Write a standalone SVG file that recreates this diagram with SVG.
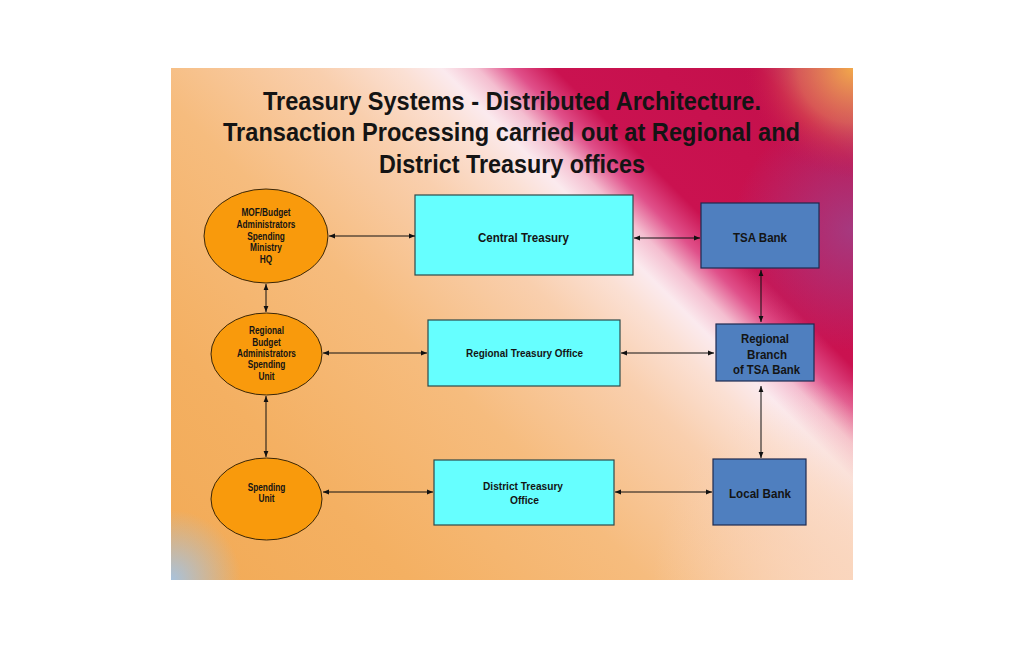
<svg xmlns="http://www.w3.org/2000/svg" width="1024" height="649" viewBox="0 0 1024 649">
<defs>
<linearGradient id="bg" gradientUnits="userSpaceOnUse" x1="853" y1="68" x2="256" y2="665">
<stop offset="0" stop-color="#B03A78"/>
<stop offset="0.08" stop-color="#C4104C"/>
<stop offset="0.25" stop-color="#CA1250"/>
<stop offset="0.285" stop-color="#E0508A"/>
<stop offset="0.315" stop-color="#F4BED0"/>
<stop offset="0.345" stop-color="#FBEAEE"/>
<stop offset="0.38" stop-color="#FBE0D4"/>
<stop offset="0.45" stop-color="#F9CFAE"/>
<stop offset="0.6" stop-color="#F6BC7E"/>
<stop offset="0.8" stop-color="#F4B062"/>
<stop offset="1" stop-color="#F2AA55"/>
</linearGradient>
<radialGradient id="tr" gradientUnits="userSpaceOnUse" cx="853" cy="68" r="110">
<stop offset="0" stop-color="#F2A84A" stop-opacity="1"/>
<stop offset="0.5" stop-color="#E88055" stop-opacity="0.6"/>
<stop offset="1" stop-color="#C8124E" stop-opacity="0"/>
</radialGradient>
<radialGradient id="rp" gradientUnits="userSpaceOnUse" cx="853" cy="230" r="120">
<stop offset="0" stop-color="#A04088" stop-opacity="0.85"/>
<stop offset="1" stop-color="#A04088" stop-opacity="0"/>
</radialGradient>
<radialGradient id="bl" gradientUnits="userSpaceOnUse" cx="171" cy="580" r="70">
<stop offset="0" stop-color="#A8C2DC" stop-opacity="1"/>
<stop offset="1" stop-color="#A8C2DC" stop-opacity="0"/>
</radialGradient>
<radialGradient id="br" gradientUnits="userSpaceOnUse" cx="853" cy="580" r="200">
<stop offset="0" stop-color="#FAD6BE" stop-opacity="0.9"/>
<stop offset="1" stop-color="#FAD6BE" stop-opacity="0"/>
</radialGradient>
<marker id="ah" viewBox="0 0 10 10" refX="10" refY="5" markerWidth="6" markerHeight="6" markerUnits="userSpaceOnUse" orient="auto-start-reverse">
<path d="M0,1 L10,5 L0,9 z" fill="#111"/>
</marker>
</defs>
<style>
.ttl{font-family:"Liberation Sans",Arial,sans-serif;font-weight:bold;font-size:26px;fill:#141414;text-anchor:middle}
.lbl{font-family:"Liberation Sans",Arial,sans-serif;font-weight:bold;fill:#141414;text-anchor:middle}
.ell{fill:#F99A0C;stroke:#3A2608;stroke-width:1}
.cyan{fill:#66FFFF;stroke:#2E4A4A;stroke-width:1.2}
.blue{fill:#4F7FBF;stroke:#1E2A50;stroke-width:1.2}
.con line{stroke:#111;stroke-width:1;marker-start:url(#ah);marker-end:url(#ah)}
</style>
<rect x="0" y="0" width="1024" height="649" fill="#FFFFFF"/>
<g id="background">
<rect x="171" y="68" width="682" height="512" fill="url(#bg)"/>
<rect x="171" y="68" width="682" height="512" fill="url(#rp)"/>
<rect x="171" y="68" width="682" height="512" fill="url(#tr)"/>
<rect x="171" y="68" width="682" height="512" fill="url(#br)"/>
<rect x="171" y="68" width="682" height="512" fill="url(#bl)"/>
</g>
<g id="title">
<text class="ttl" x="512" y="110" textLength="498" lengthAdjust="spacingAndGlyphs">Treasury Systems - Distributed Architecture.</text>
<text class="ttl" x="511.5" y="141" textLength="577" lengthAdjust="spacingAndGlyphs">Transaction Processing carried out at Regional and</text>
<text class="ttl" x="512" y="173" textLength="266" lengthAdjust="spacingAndGlyphs">District Treasury offices</text>
</g>
<g id="mof">
<ellipse class="ell" cx="266" cy="236" rx="62" ry="47"/>
<g transform="translate(266,0) scale(0.83,1)" class="lbl" font-size="10">
<text x="0" y="216">MOF/Budget</text>
<text x="0" y="228">Administrators</text>
<text x="0" y="240">Spending</text>
<text x="0" y="251">Ministry</text>
<text x="0" y="263">HQ</text>
</g>
</g>
<g id="regional-budget">
<ellipse class="ell" cx="266.5" cy="354" rx="55.5" ry="41"/>
<g transform="translate(266.5,0) scale(0.83,1)" class="lbl" font-size="10">
<text x="0" y="334.5">Regional</text>
<text x="0" y="346">Budget</text>
<text x="0" y="357">Administrators</text>
<text x="0" y="368.5">Spending</text>
<text x="0" y="380">Unit</text>
</g>
</g>
<g id="spending-unit">
<ellipse class="ell" cx="266.5" cy="499" rx="55.5" ry="41"/>
<g transform="translate(266.5,0) scale(0.83,1)" class="lbl" font-size="10">
<text x="0" y="491">Spending</text>
<text x="0" y="502.5">Unit</text>
</g>
</g>
<g id="central-treasury">
<rect class="cyan" x="415" y="195" width="218" height="80"/>
<text class="lbl" font-size="13" x="523.5" y="241.5" textLength="91" lengthAdjust="spacingAndGlyphs">Central Treasury</text>
</g>
<g id="regional-treasury-office">
<rect class="cyan" x="428" y="320" width="192" height="66"/>
<text class="lbl" font-size="11" x="524.5" y="357" textLength="117" lengthAdjust="spacingAndGlyphs">Regional Treasury Office</text>
</g>
<g id="district-treasury-office">
<rect class="cyan" x="434" y="460" width="180" height="65"/>
<text class="lbl" font-size="11" x="523" y="490" textLength="80" lengthAdjust="spacingAndGlyphs">District Treasury</text>
<text class="lbl" font-size="11" x="524.5" y="504" textLength="29" lengthAdjust="spacingAndGlyphs">Office</text>
</g>
<g id="tsa-bank">
<rect class="blue" x="701" y="203" width="118" height="65"/>
<text class="lbl" font-size="13" x="760" y="241.5" textLength="54" lengthAdjust="spacingAndGlyphs">TSA Bank</text>
</g>
<g id="regional-branch">
<rect class="blue" x="716" y="324" width="98" height="57"/>
<text class="lbl" font-size="13" x="765" y="342.5" textLength="48" lengthAdjust="spacingAndGlyphs">Regional</text>
<text class="lbl" font-size="13" x="767" y="358.5" textLength="40" lengthAdjust="spacingAndGlyphs">Branch</text>
<text class="lbl" font-size="13" x="766.5" y="374" textLength="67" lengthAdjust="spacingAndGlyphs">of TSA Bank</text>
</g>
<g id="local-bank">
<rect class="blue" x="713" y="459" width="93" height="66"/>
<text class="lbl" font-size="13" x="760" y="497.5" textLength="62" lengthAdjust="spacingAndGlyphs">Local Bank</text>
</g>
<g id="connectors" class="con">
<line x1="329" y1="236" x2="415" y2="236"/>
<line x1="634" y1="238" x2="700" y2="238"/>
<line x1="266" y1="284" x2="266" y2="312"/>
<line x1="323" y1="353" x2="427" y2="353"/>
<line x1="621" y1="353" x2="714" y2="353"/>
<line x1="761" y1="270" x2="761" y2="322"/>
<line x1="266" y1="396" x2="266" y2="457"/>
<line x1="761" y1="386" x2="761" y2="458"/>
<line x1="323" y1="492" x2="433" y2="492"/>
<line x1="615" y1="492" x2="712" y2="492"/>
</g>
</svg>
